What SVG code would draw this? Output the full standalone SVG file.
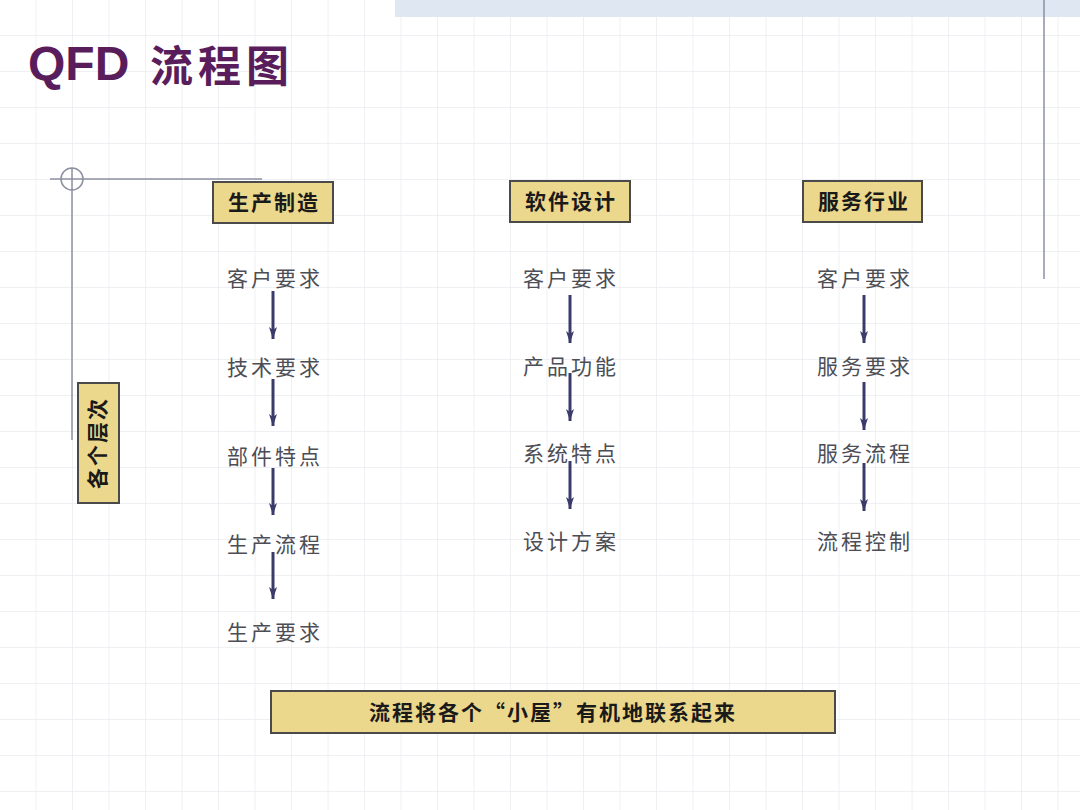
<svg xmlns="http://www.w3.org/2000/svg" width="1080" height="810" viewBox="0 0 1080 810">
<defs>
<pattern id="grid" width="36.5" height="36" patternUnits="userSpaceOnUse">
<path d="M36.5 0V36M0 36H36.5" fill="none" stroke="#e9ecf1" stroke-width="1.5"/>
</pattern>
<marker id="ah" viewBox="0 0 12 8" refX="12" refY="4" markerWidth="12" markerHeight="8" markerUnits="userSpaceOnUse" orient="auto">
<path d="M0 0L12 4L0 8L3 4Z" fill="#3b3b6b"/>
</marker>
<style>
.box{fill:#ecd88c;stroke:#4a4a4a;stroke-width:2}
.bt{font-family:"Noto Sans CJK SC","Noto Sans CJK JP",sans-serif;font-size:21px;font-weight:bold;fill:#1a1a1a;text-anchor:middle;letter-spacing:2px}
.nt{font-family:"Noto Sans CJK SC","Noto Sans CJK JP",sans-serif;font-size:21px;fill:#4d4d55;text-anchor:middle;letter-spacing:3px}
.arr{stroke:#3b3b6b;stroke-width:3;fill:none}
.ln{stroke:#8c90a0;stroke-width:1.5;fill:none}
</style>
</defs>
<rect width="1080" height="810" fill="#ffffff"/>
<rect width="1080" height="810" fill="url(#grid)"/>
<rect x="395" y="0" width="685" height="17" fill="#dfe7f2"/>
<line class="ln" x1="1044" y1="0" x2="1044" y2="279"/>
<g id="corner">
<line class="ln" x1="50" y1="179" x2="262" y2="179"/>
<line class="ln" x1="72" y1="168" x2="72" y2="440"/>
<circle class="ln" cx="72" cy="179" r="11"/>
</g>
<g id="title">
<text x="28" y="80" font-family="Liberation Sans,Arial,sans-serif" font-size="48" font-weight="bold" fill="#5a1d5c">QFD</text>
<text x="150" y="82" font-family="Noto Sans CJK SC,sans-serif" font-size="43" font-weight="bold" fill="#5a1d5c" letter-spacing="5">流程图</text>
</g>
<g id="h1"><rect class="box" x="213" y="182" width="120" height="41"/><text class="bt" x="274" y="210">生产制造</text></g>
<g id="h2"><rect class="box" x="510" y="181" width="120" height="41"/><text class="bt" x="571" y="209">软件设计</text></g>
<g id="h3"><rect class="box" x="803" y="181" width="119" height="41"/><text class="bt" x="864" y="209">服务行业</text></g>
<g id="levels"><rect class="box" x="78" y="383" width="41" height="120"/><text class="bt" transform="translate(98 443) rotate(-90)" y="7">各个层次</text></g>
<g id="c1n1"><text class="nt" x="275" y="286">客户要求</text></g>
<g id="c1n2"><text class="nt" x="275" y="375">技术要求</text></g>
<g id="c1n3"><text class="nt" x="275" y="464">部件特点</text></g>
<g id="c1n4"><text class="nt" x="275" y="552">生产流程</text></g>
<g id="c1n5"><text class="nt" x="275" y="640">生产要求</text></g>
<g id="c2n1"><text class="nt" x="571" y="286">客户要求</text></g>
<g id="c2n2"><text class="nt" x="571" y="374">产品功能</text></g>
<g id="c2n3"><text class="nt" x="571" y="461">系统特点</text></g>
<g id="c2n4"><text class="nt" x="571" y="549">设计方案</text></g>
<g id="c3n1"><text class="nt" x="865" y="286">客户要求</text></g>
<g id="c3n2"><text class="nt" x="865" y="374">服务要求</text></g>
<g id="c3n3"><text class="nt" x="865" y="461">服务流程</text></g>
<g id="c3n4"><text class="nt" x="865" y="549">流程控制</text></g>
<g id="connectors">
<line class="arr" x1="273" y1="291" x2="273" y2="339" marker-end="url(#ah)"/>
<line class="arr" x1="273" y1="379" x2="273" y2="426" marker-end="url(#ah)"/>
<line class="arr" x1="273" y1="468" x2="273" y2="515" marker-end="url(#ah)"/>
<line class="arr" x1="273" y1="552" x2="273" y2="599" marker-end="url(#ah)"/>
<line class="arr" x1="570" y1="295" x2="570" y2="343" marker-end="url(#ah)"/>
<line class="arr" x1="570" y1="373" x2="570" y2="421" marker-end="url(#ah)"/>
<line class="arr" x1="570" y1="461" x2="570" y2="509" marker-end="url(#ah)"/>
<line class="arr" x1="864" y1="295" x2="864" y2="343" marker-end="url(#ah)"/>
<line class="arr" x1="864" y1="382" x2="864" y2="430" marker-end="url(#ah)"/>
<line class="arr" x1="864" y1="463" x2="864" y2="511" marker-end="url(#ah)"/>
</g>
<g id="footer"><rect class="box" x="271" y="691" width="564" height="42"/><text class="bt" x="553" y="720">流程将各个“小屋”有机地联系起来</text></g>
</svg>
